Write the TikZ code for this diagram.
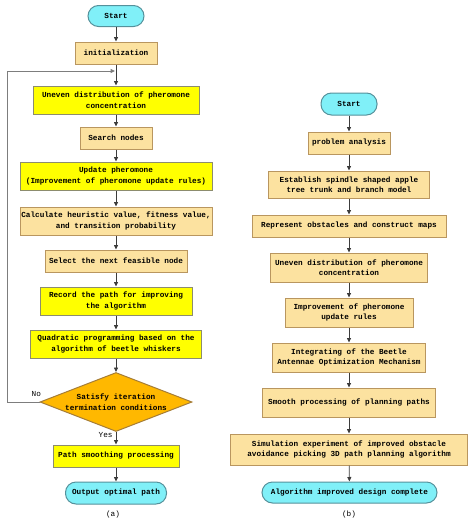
\documentclass[tikz,border=0pt]{standalone}
\usepackage{fontspec}
\setmainfont{Liberation Mono}
\usetikzlibrary{arrows.meta,shapes.geometric}
\definecolor{boxtan}{RGB}{252,226,160}
\definecolor{tanedge}{RGB}{185,150,95}
\definecolor{boxyellow}{RGB}{255,255,0}
\definecolor{yellowedge}{RGB}{140,140,110}
\definecolor{pillcyan}{RGB}{128,240,248}
\definecolor{pilledge}{RGB}{85,145,155}
\definecolor{diaorange}{RGB}{255,184,0}
\definecolor{diaedge}{RGB}{165,125,55}
\definecolor{flowgray}{RGB}{60,60,60}
\definecolor{loopgray}{RGB}{125,125,125}

\begin{document}
\begin{tikzpicture}[x=1pt, y=-1pt,
  every node/.style={font=\fontsize{7.7}{10.5}\selectfont\bfseries, align=center, inner sep=0pt},
  tanbox/.style={draw=tanedge, fill=boxtan, line width=1pt},
  yellowbox/.style={draw=yellowedge, fill=boxyellow, line width=1pt},
  pill/.style={draw=pilledge, fill=pillcyan, line width=1pt, rounded corners=10.5pt},
  decision/.style={diamond, aspect=2.6, draw=diaedge, fill=diaorange, line width=1pt},
  flowarrow/.style={draw=flowgray, line width=0.8pt, -{Triangle[length=4.5pt,width=4pt]}},
  loopline/.style={draw=loopgray, line width=1pt, -{Triangle[length=4.5pt,width=4pt]}},
  caption/.style={font=\fontsize{7.7}{9}\selectfont}]
  \useasboundingbox (0,0) rectangle (474,522);
  % (a) improved ant colony algorithm
  \node[pill, minimum width=56pt, minimum height=21pt] (startA) at (116,16) {Start};
  \node[tanbox, minimum width=82pt, minimum height=22pt] (init) at (116,53) {initialization};
  \node[yellowbox, minimum width=166pt, minimum height=28pt] (unevenA) at (116,100) {Uneven distribution of pheromone\\concentration};
  \node[tanbox, minimum width=72pt, minimum height=22pt] (search) at (116,138) {Search nodes};
  \node[yellowbox, minimum width=192pt, minimum height=28pt] (update) at (116,176) {Update pheromone\\(Improvement of pheromone update rules)};
  \node[tanbox, minimum width=192pt, minimum height=28pt] (calc) at (116,221) {Calculate heuristic value, fitness value,\\and transition probability};
  \node[tanbox, minimum width=142pt, minimum height=22pt] (select) at (116,261) {Select the next feasible node};
  \node[yellowbox, minimum width=152pt, minimum height=28pt] (record) at (116,301) {Record the path for improving\\the algorithm};
  \node[yellowbox, minimum width=171pt, minimum height=28pt] (quad) at (116,344) {Quadratic programming based on the\\algorithm of beetle whiskers};
  \node[decision, minimum width=152pt, minimum height=59pt] (check) at (116,402) {Satisfy iteration\\termination conditions};
  \node[yellowbox, minimum width=126pt, minimum height=22pt] (smoothA) at (116,456) {Path smoothing processing};
  \node[pill, minimum width=101pt, minimum height=22pt] (output) at (116,493) {Output optimal path};
  \node[caption] (capA) at (113,515) {(a)};
  \coordinate (loopin) at (115,71);
  \foreach \a/\b in {startA/init, init/unevenA, unevenA/search, search/update, update/calc, calc/select, select/record, record/quad, quad/check, smoothA/output}
    \draw[flowarrow] (\a) -- (\b);
  \draw[flowarrow] (check) -- (smoothA) node[pos=0.22, left=3pt, font=\fontsize{7.7}{9}\selectfont] {Yes};
  \draw[loopline] (check.west) -- ++(-32,0) node[pos=0.1, above=5pt, font=\fontsize{7.7}{9}\selectfont] {No} |- (loopin);
  % (b) overall design flow
  \node[pill, minimum width=56pt, minimum height=22pt] (startB) at (349,104) {Start};
  \node[tanbox, minimum width=82pt, minimum height=22pt] (problem) at (349,143) {problem analysis};
  \node[tanbox, minimum width=161pt, minimum height=27pt] (model) at (349,184.5) {Establish spindle shaped apple\\tree trunk and branch model};
  \node[tanbox, minimum width=194pt, minimum height=22pt] (maps) at (349,226) {Represent obstacles and construct maps};
  \node[tanbox, minimum width=157pt, minimum height=29pt] (unevenB) at (349,267.5) {Uneven distribution of pheromone\\concentration};
  \node[tanbox, minimum width=128pt, minimum height=29pt] (rules) at (349,312.5) {Improvement of pheromone\\update rules};
  \node[tanbox, minimum width=153pt, minimum height=29pt] (beetle) at (349,357.5) {Integrating of the Beetle\\Antennae Optimization Mechanism};
  \node[tanbox, minimum width=173pt, minimum height=29pt] (smoothB) at (349,402.5) {Smooth processing of planning paths};
  \node[tanbox, minimum width=237pt, minimum height=31pt] (simul) at (349,449.5) {Simulation experiment of improved obstacle\\avoidance picking 3D path planning algorithm};
  \node[pill, minimum width=175pt, minimum height=21pt] (done) at (349.5,492.5) {Algorithm improved design complete};
  \node[caption] (capB) at (349,515) {(b)};
  \foreach \a/\b in {startB/problem, problem/model, model/maps, maps/unevenB, unevenB/rules, rules/beetle, beetle/smoothB, smoothB/simul, simul/done}
    \draw[flowarrow] (\a) -- (\b);
\end{tikzpicture}
\end{document}
